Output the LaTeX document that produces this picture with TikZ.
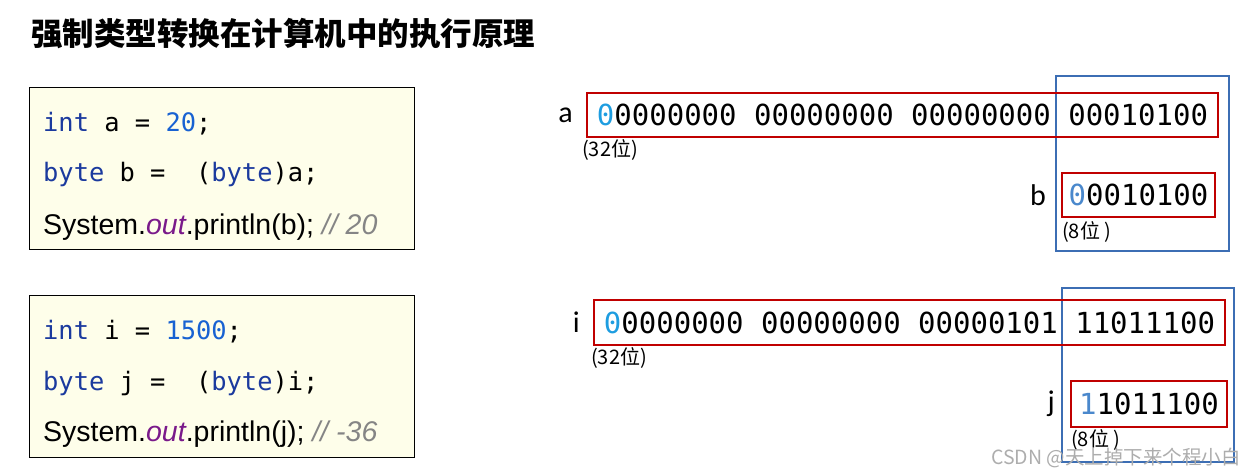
\documentclass[tikz,border=0pt]{standalone}
\usepackage{fontspec}
\setmainfont{Liberation Sans}
\setmonofont{DejaVu Sans Mono}
\newfontfamily\cjk{Noto Sans CJK SC}
\newfontfamily\carl{Carlito}
\usepackage{tikz}
\usetikzlibrary{positioning}
\definecolor{codebg}{HTML}{FEFEEA}
\definecolor{ckw}{HTML}{1B3A9E}
\definecolor{cnum}{HTML}{1862D2}
\definecolor{cout}{HTML}{7A1A8A}
\definecolor{ccmt}{HTML}{858585}
\definecolor{cbit}{HTML}{C00000}
\definecolor{cwin}{HTML}{3C6EB4}
\definecolor{cfirsta}{HTML}{1E9DE0}
\definecolor{cfirstb}{HTML}{4A88CC}
\definecolor{cwm}{HTML}{ADADAD}
\tikzset{
  codebox/.style={draw=black, fill=codebg, line width=0.8pt, inner sep=0pt},
  code/.style={inner sep=0pt, font=\ttfamily\fontsize{25.4}{30}\selectfont},
  prose/.style={inner sep=0pt, font=\fontsize{28.5}{34}\selectfont},
  bitbox/.style={draw=cbit, line width=2pt, inner sep=0pt, font=\ttfamily\fontsize{29}{34}\selectfont},
  winbox/.style={draw=cwin, line width=2pt, inner sep=0pt},
  varl/.style={inner sep=0pt, font=\carl\fontsize{30}{36}\selectfont},
  note/.style={inner sep=0pt, font=\cjk\fontsize{20}{24}\selectfont},
  wmark/.style={inner sep=0pt, text=cwm, font=\cjk\fontsize{19.5}{23}\selectfont},
}
\newcommand{\kw}[1]{\textcolor{ckw}{#1}}
\newcommand{\num}[1]{\textcolor{cnum}{#1}}
\newcommand{\outf}{\textcolor{cout}{\itshape out}}
\newcommand{\cmt}[1]{\textcolor{ccmt}{\itshape #1}}

\begin{document}
\begin{tikzpicture}[x=1pt,y=-1pt]
\useasboundingbox (0,0) rectangle (1254,476);
% ---------------- title
\node[anchor=west, inner sep=0pt, font=\cjk\bfseries\fontsize{31.5}{36}\selectfont] (title) at (31,34) {强制类型转换在计算机中的执行原理};
% ---------------- code (a -> b)
\node[codebox, minimum width=385, minimum height=162, anchor=north west] (codea) at (29,87) {};
\node[code, anchor=base west] (ca1) at (43,132) {\kw{int} a = \num{20};};
\node[code, anchor=base west] (ca2) at (43,182) {\kw{byte} b =\ \ (\kw{byte})a;};
\node[prose, anchor=base west] (ca3) at (43,234) {System.\outf.println(b); \cmt{// 20}};
% ---------------- code (i -> j)
\node[codebox, minimum width=385, minimum height=162, anchor=north west] (codei) at (29,295) {};
\node[code, anchor=base west] (ci1) at (43,339) {\kw{int} i = \num{1500};};
\node[code, anchor=base west] (ci2) at (43,390) {\kw{byte} j =\ \ (\kw{byte})i;};
\node[prose, anchor=base west] (ci3) at (43,441) {System.\outf.println(j); \cmt{// -36}};
% ---------------- bits a / b
\node[winbox, minimum width=173, minimum height=175, anchor=north west] (wina) at (1055,75) {};
\node[bitbox, minimum width=631, minimum height=44] (bitsa) at (902.5,115) {\textcolor{cfirsta}{0}0000000 00000000 00000000 00010100};
\node[varl, left=13pt of bitsa] (va) {a};
\node[note, anchor=north west, xshift=-4pt, yshift=-1pt] (wa) at (bitsa.south west) {(32位)};
\node[bitbox, minimum width=153, minimum height=44] (bitsb) at (1138.5,195) {\textcolor{cfirstb}{0}0010100};
\node[varl, left=15pt of bitsb] (vb) {b};
\node[note, anchor=north west, xshift=1pt, yshift=-3pt] (wb) at (bitsb.south west) {(8位 )};
% ---------------- bits i / j
\node[winbox, minimum width=172, minimum height=174, anchor=north west] (wini) at (1061,287) {};
\node[bitbox, minimum width=631, minimum height=45] (bitsi) at (909.5,322.5) {\textcolor{cfirsta}{0}0000000 00000000 00000101 11011100};
\node[varl, left=13pt of bitsi] (vi) {i};
\node[note, anchor=north west, xshift=-2pt, yshift=-1pt] (wi) at (bitsi.south west) {(32位)};
\node[bitbox, minimum width=156, minimum height=46] (bitsj) at (1149,404) {\textcolor{cfirstb}{1}1011100};
\node[varl, left=15pt of bitsj] (vj) {j};
\node[note, anchor=north west, xshift=1pt, yshift=-1pt] (wj) at (bitsj.south west) {(8位 )};
% ---------------- watermark
\node[wmark, anchor=east] (wm) at (1241,458) {CSDN @天上掉下来个程小白};
\end{tikzpicture}
\end{document}
